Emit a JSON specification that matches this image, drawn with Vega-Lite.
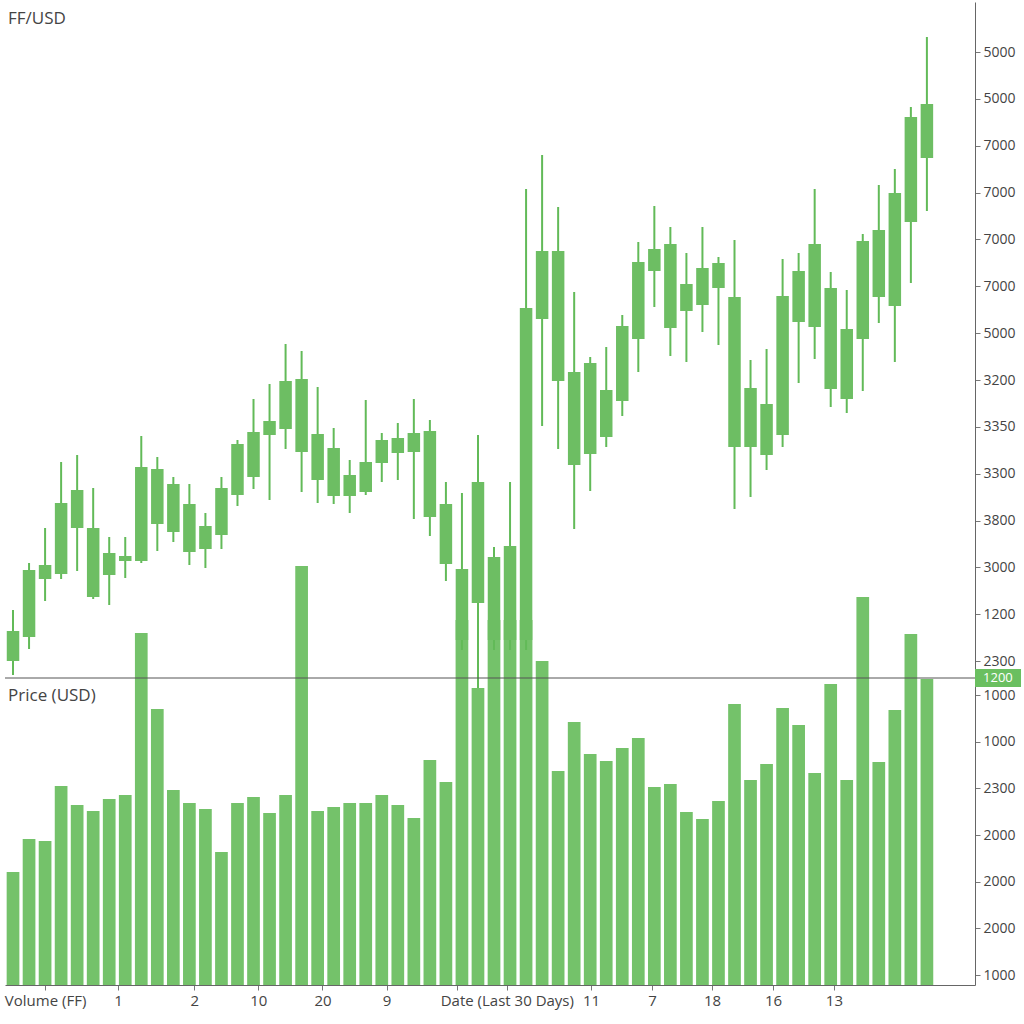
{
  "$schema": "https://vega.github.io/schema/vega-lite/v6.json",
  "width": 970,
  "height": 983,
  "autosize": {"type": "none"},
  "padding": {"left": 5, "top": 2, "right": 49, "bottom": 39},
  "background": "#ffffff",
  "config": {"view": {"stroke": null}, "font": "Open Sans"},
  "data": {"values": [
    {"d":1,"o":1620,"c":1770,"h":1875,"l":1550,"v":1130},
    {"d":2,"o":1740,"c":2075,"h":2110,"l":1680,"v":1460},
    {"d":3,"o":2030,"c":2100,"h":2285,"l":1920,"v":1440},
    {"d":4,"o":2055,"c":2410,"h":2615,"l":2030,"v":1990},
    {"d":5,"o":2285,"c":2475,"h":2650,"l":2070,"v":1800},
    {"d":6,"o":1940,"c":2285,"h":2485,"l":1930,"v":1740},
    {"d":7,"o":2050,"c":2160,"h":2240,"l":1900,"v":1860},
    {"d":8,"o":2120,"c":2145,"h":2240,"l":2035,"v":1900},
    {"d":9,"o":2120,"c":2590,"h":2745,"l":2110,"v":3520},
    {"d":10,"o":2305,"c":2580,"h":2640,"l":2170,"v":2760},
    {"d":11,"o":2265,"c":2505,"h":2540,"l":2215,"v":1950},
    {"d":12,"o":2165,"c":2405,"h":2505,"l":2100,"v":1820},
    {"d":13,"o":2180,"c":2295,"h":2360,"l":2085,"v":1760},
    {"d":14,"o":2250,"c":2485,"h":2540,"l":2180,"v":1330},
    {"d":15,"o":2450,"c":2705,"h":2725,"l":2395,"v":1820},
    {"d":16,"o":2540,"c":2765,"h":2930,"l":2480,"v":1880},
    {"d":17,"o":2750,"c":2820,"h":3005,"l":2425,"v":1720},
    {"d":18,"o":2780,"c":3020,"h":3205,"l":2680,"v":1900},
    {"d":19,"o":2665,"c":3030,"h":3170,"l":2465,"v":4190},
    {"d":20,"o":2525,"c":2755,"h":2990,"l":2410,"v":1740},
    {"d":21,"o":2445,"c":2685,"h":2785,"l":2405,"v":1780},
    {"d":22,"o":2445,"c":2550,"h":2625,"l":2360,"v":1820},
    {"d":23,"o":2465,"c":2615,"h":2925,"l":2450,"v":1820},
    {"d":24,"o":2610,"c":2725,"h":2760,"l":2515,"v":1900},
    {"d":25,"o":2660,"c":2735,"h":2810,"l":2525,"v":1800},
    {"d":26,"o":2665,"c":2760,"h":2930,"l":2330,"v":1670},
    {"d":27,"o":2340,"c":2770,"h":2825,"l":2245,"v":2250},
    {"d":28,"o":2105,"c":2405,"h":2515,"l":2020,"v":2030},
    {"d":29,"o":1725,"c":2080,"h":2460,"l":1675,"v":3650},
    {"d":30,"o":1910,"c":2515,"h":2750,"l":1485,"v":2970},
    {"d":31,"o":1725,"c":2140,"h":2190,"l":1675,"v":3650},
    {"d":32,"o":1725,"c":2195,"h":2515,"l":1675,"v":3650},
    {"d":33,"o":1725,"c":3385,"h":3980,"l":1675,"v":3650},
    {"d":34,"o":3330,"c":3670,"h":4150,"l":2795,"v":3240},
    {"d":35,"o":3020,"c":3670,"h":3890,"l":2680,"v":2140},
    {"d":36,"o":2600,"c":3065,"h":3465,"l":2280,"v":2630},
    {"d":37,"o":2655,"c":3110,"h":3140,"l":2470,"v":2310},
    {"d":38,"o":2740,"c":2975,"h":3190,"l":2690,"v":2240},
    {"d":39,"o":2920,"c":3295,"h":3350,"l":2845,"v":2370},
    {"d":40,"o":3230,"c":3615,"h":3715,"l":3065,"v":2470},
    {"d":41,"o":3570,"c":3680,"h":3895,"l":3390,"v":1980},
    {"d":42,"o":3285,"c":3705,"h":3790,"l":3145,"v":2010},
    {"d":43,"o":3370,"c":3505,"h":3660,"l":3115,"v":1730},
    {"d":44,"o":3400,"c":3585,"h":3790,"l":3265,"v":1660},
    {"d":45,"o":3485,"c":3610,"h":3640,"l":3200,"v":1840},
    {"d":46,"o":2690,"c":3440,"h":3725,"l":2380,"v":2810},
    {"d":47,"o":2690,"c":2985,"h":3125,"l":2440,"v":2050},
    {"d":48,"o":2650,"c":2905,"h":3180,"l":2575,"v":2210},
    {"d":49,"o":2750,"c":3445,"h":3630,"l":2690,"v":2770},
    {"d":50,"o":3315,"c":3570,"h":3660,"l":3010,"v":2600},
    {"d":51,"o":3290,"c":3705,"h":3980,"l":3130,"v":2120},
    {"d":52,"o":2980,"c":3485,"h":3565,"l":2890,"v":3010},
    {"d":53,"o":2930,"c":3280,"h":3475,"l":2860,"v":2050},
    {"d":54,"o":3230,"c":3720,"h":3755,"l":2970,"v":3880},
    {"d":55,"o":3440,"c":3775,"h":4000,"l":3310,"v":2230},
    {"d":56,"o":3395,"c":3960,"h":4080,"l":3115,"v":2750},
    {"d":57,"o":3815,"c":4340,"h":4390,"l":3510,"v":3510},
    {"d":58,"o":4135,"c":4405,"h":4740,"l":3870,"v":3060}
  ]},
  "resolve": {"scale": {"y": "independent"}, "axis": {"x": "independent", "y": "independent"}},
  "layer": [
    {
      "mark": {"type": "bar", "size": 12.7, "color": "#74c26a"},
      "encoding": {
        "x": {
          "field": "d", "type": "quantitative",
          "scale": {"domain": [0.5, 61], "nice": false, "zero": false, "padding": 0},
          "axis": {
            "orient": "bottom", "title": null, "grid": false,
            "values": [3, 7.55, 12.3, 16.3, 20.3, 24.3, 28.7, 31.8, 37.05, 40.85, 44.6, 48.4, 52.2],
            "labelExpr": "datum.value < 5 ? 'Volume (FF)' : datum.value < 10 ? '1' : datum.value < 14 ? '2' : datum.value < 18 ? '10' : datum.value < 22 ? '20' : datum.value < 26 ? '9' : datum.value < 30 ? '' : datum.value < 34 ? 'Date (Last 30 Days)' : datum.value < 39 ? '11' : datum.value < 42 ? '7' : datum.value < 46 ? '18' : datum.value < 50 ? '16' : '13'",
            "labelFlush": false, "labelOverlap": false, "labelBound": false,
            "labelFont": "Open Sans", "labelFontSize": 15, "labelColor": "#444444",
            "labelPadding": 3, "tickSize": 5, "tickColor": "#777777",
            "domainColor": "#666666", "domainWidth": 1
          }
        },
        "y": {
          "field": "v", "type": "quantitative",
          "scale": {"domain": [0, 9830], "nice": false, "zero": false},
          "axis": null
        }
      }
    },
    {
      "resolve": {"axis": {"x": "independent", "y": "independent"}},
      "layer": [
        {
          "mark": {"type": "rule", "strokeWidth": 2, "color": "#62ba58"},
          "encoding": {
            "x": {"field": "d", "type": "quantitative", "scale": {"domain": [0.5, 61], "nice": false, "zero": false, "padding": 0}, "axis": null},
            "y": {
              "field": "l", "type": "quantitative",
              "scale": {"domain": [0, 4915], "nice": false, "zero": false},
              "axis": {
                "orient": "right", "title": null, "grid": false,
                "values": [4665,4430.5,4196.5,3962,3728,3493.5,3259.5,3025,2790.5,2556.5,2322,2088,1853.5,1619.5,1450,1216.5,983.5,750,516.5,283.5,50],
                "labelExpr": "datum.value > 4550 ? '5000' : datum.value > 4300 ? '5000' : datum.value > 4080 ? '7000' : datum.value > 3850 ? '7000' : datum.value > 3600 ? '7000' : datum.value > 3380 ? '7000' : datum.value > 3140 ? '5000' : datum.value > 2900 ? '3200' : datum.value > 2670 ? '3350' : datum.value > 2440 ? '3300' : datum.value > 2200 ? '3800' : datum.value > 1970 ? '3000' : datum.value > 1740 ? '1200' : datum.value > 1530 ? '2300' : datum.value > 1330 ? '1000' : datum.value > 1100 ? '1000' : datum.value > 870 ? '2300' : datum.value > 630 ? '2000' : datum.value > 400 ? '2000' : datum.value > 160 ? '2000' : '1000'",
                "labelFlush": false, "labelOverlap": false, "labelBound": false,
                "labelFont": "Open Sans", "labelFontSize": 14, "labelColor": "#444444",
                "labelPadding": 3, "tickSize": 5, "tickColor": "#777777",
                "domainColor": "#666666", "domainWidth": 1
              }
            },
            "y2": {"field": "h"}
          }
        },
        {
          "mark": {"type": "bar", "size": 12.5, "color": "#6dbe63"},
          "encoding": {
            "x": {"field": "d", "type": "quantitative", "scale": {"domain": [0.5, 61], "nice": false, "zero": false, "padding": 0}, "axis": null},
            "y": {"field": "o", "type": "quantitative", "scale": {"domain": [0, 4915], "nice": false, "zero": false}, "axis": null},
            "y2": {"field": "c"}
          }
        },
        {
          "data": {"values": [{"level": 1535}]},
          "mark": {"type": "rule", "color": "#555555", "strokeWidth": 1},
          "encoding": {
            "y": {"field": "level", "type": "quantitative", "scale": {"domain": [0, 4915], "nice": false, "zero": false}, "axis": null}
          }
        },
        {
          "data": {"values": [{"tag": "1200", "lo": 1490, "hi": 1580}]},
          "mark": {"type": "rect", "color": "#6abf60", "clip": false},
          "encoding": {
            "x": {"datum": 61, "type": "quantitative", "scale": {"domain": [0.5, 61], "nice": false, "zero": false, "padding": 0}, "axis": null},
            "x2": {"datum": 63.87},
            "y": {"field": "lo", "type": "quantitative", "scale": {"domain": [0, 4915], "nice": false, "zero": false}, "axis": null},
            "y2": {"field": "hi"}
          }
        },
        {
          "data": {"values": [{"tag": "1200", "level": 1535}]},
          "mark": {"type": "text", "color": "#ffffff", "font": "Open Sans", "fontSize": 13, "align": "center", "baseline": "middle", "clip": false},
          "encoding": {
            "x": {"datum": 62.43, "type": "quantitative", "scale": {"domain": [0.5, 61], "nice": false, "zero": false, "padding": 0}, "axis": null},
            "y": {"field": "level", "type": "quantitative", "scale": {"domain": [0, 4915], "nice": false, "zero": false}, "axis": null},
            "text": {"field": "tag"}
          }
        },
        {
          "data": {"values": [{"label": "FF/USD", "py": 4830}, {"label": "Price (USD)", "py": 1445}]},
          "mark": {"type": "text", "color": "#444444", "font": "Open Sans", "fontSize": 17, "align": "left", "baseline": "middle"},
          "encoding": {
            "x": {"datum": 0.69, "type": "quantitative", "scale": {"domain": [0.5, 61], "nice": false, "zero": false, "padding": 0}, "axis": null},
            "y": {"field": "py", "type": "quantitative", "scale": {"domain": [0, 4915], "nice": false, "zero": false}, "axis": null},
            "text": {"field": "label"}
          }
        }
      ]
    }
  ]
}
